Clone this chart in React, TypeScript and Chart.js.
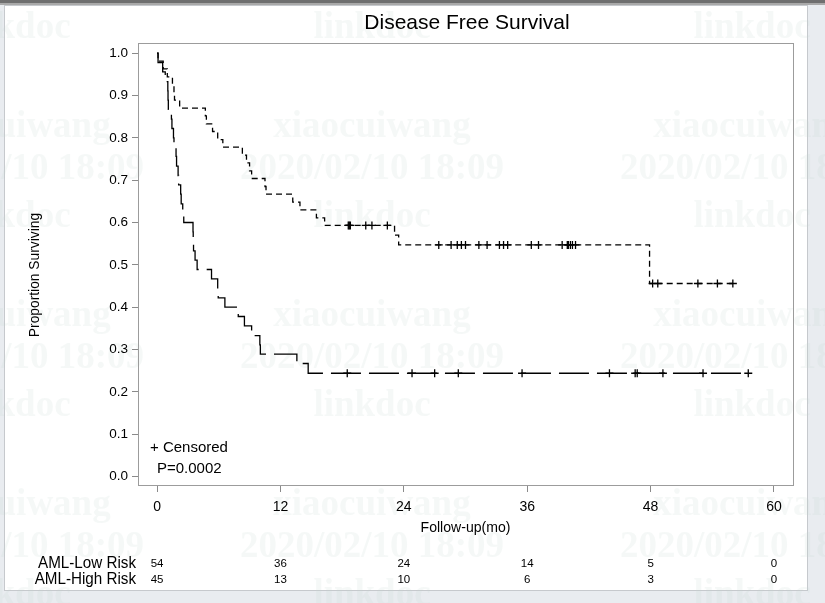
import React, { useEffect, useRef } from 'react';
import { Chart, registerables } from 'chart.js';

Chart.register(...registerables);

const chartTitle = 'Disease Free Survival';
const xAxisTitle = 'Follow-up(mo)';
const yAxisTitle = 'Proportion Surviving';
const censoredText = '+ Censored';
const pValueText = 'P=0.0002';

const xTicks = [0, 12, 24, 36, 48, 60];
const yTicks = [0, 0.1, 0.2, 0.3, 0.4, 0.5, 0.6, 0.7, 0.8, 0.9, 1.0];

// AML-Low Risk: Kaplan-Meier steps (months, proportion surviving)
const lowRiskTimes = [
  0, 0.1, 0.6, 1.0, 1.5, 1.65, 1.7, 2.2, 4.7, 4.8, 5.4, 5.9, 6.4, 8.3, 8.7, 9.0, 9.2,
  10.5, 10.6, 13.2, 13.9, 15.5, 16.3, 23.1, 23.5, 47.9, 56.0,
];
const lowRiskSurvival = [
  1.0, 0.981, 0.963, 0.944, 0.926, 0.907, 0.889, 0.87, 0.852, 0.833, 0.815, 0.796, 0.778,
  0.759, 0.741, 0.722, 0.704, 0.685, 0.667, 0.648, 0.63, 0.611, 0.593, 0.57, 0.547, 0.456,
  0.456,
];
const lowRiskCensored = [
  18.6, 18.7, 18.8, 20.3, 20.9, 22.4, 27.4, 28.6, 29.2, 29.6, 30.0, 31.3, 32.1, 33.3, 33.7,
  34.1, 36.4, 37.1, 39.4, 39.9, 40.0, 40.2, 40.4, 40.7, 48.2, 48.7, 52.6, 54.5, 56.0,
];

// AML-High Risk: Kaplan-Meier steps (months, proportion surviving)
const highRiskTimes = [
  0, 0.1, 0.55, 0.8, 1.05, 1.07, 1.1, 1.4, 1.45, 1.6, 1.65, 1.85, 1.9, 2.05, 2.1, 2.3, 2.35,
  2.5, 2.6, 3.5, 3.52, 3.55, 3.7, 3.9, 5.3, 5.9, 5.95, 6.6, 7.9, 8.5, 9.2, 10.0, 10.05, 13.6,
  14.7, 57.5,
];
const highRiskSurvival = [
  1.0, 0.978, 0.956, 0.933, 0.911, 0.889, 0.867, 0.844, 0.822, 0.8, 0.778, 0.756, 0.733,
  0.711, 0.689, 0.667, 0.644, 0.622, 0.6, 0.578, 0.556, 0.533, 0.511, 0.489, 0.467, 0.444,
  0.422, 0.4, 0.378, 0.356, 0.333, 0.311, 0.289, 0.267, 0.244, 0.244,
];
const highRiskCensored = [18.5, 24.8, 27.0, 29.3, 35.5, 44.0, 46.5, 46.7, 49.2, 53.1, 57.5];

// Numbers at risk under the axis
const riskGroups = ['AML-Low Risk', 'AML-High Risk'];
const lowRiskAtRisk = [54, 36, 24, 14, 5, 0];
const highRiskAtRisk = [45, 13, 10, 6, 3, 0];

// Faint stamp repeated over the figure
const stampWords = ['linkdoc', 'xiaocuiwang', '2020/02/10 18:09'];

const SANS = '"Liberation Sans", Arial, sans-serif';
const SERIF = '"Liberation Serif", "Times New Roman", serif';

function survivalAt(times: number[], surv: number[], t: number): number {
  let v = surv[0];
  for (let i = 0; i < times.length; i++) {
    if (times[i] <= t) v = surv[i];
  }
  return v;
}

function toPoints(xs: number[], ys: number[]) {
  return xs.map((x, i) => ({ x, y: ys[i] }));
}

type TextOpts = {
  align?: CanvasTextAlign;
  weight?: string;
  family?: string;
  color?: string;
  sx?: number;
  rotate?: number;
};

function drawText(
  ctx: CanvasRenderingContext2D,
  str: string,
  x: number,
  y: number,
  size: number,
  o: TextOpts = {}
) {
  ctx.save();
  ctx.translate(x, y);
  if (o.rotate) ctx.rotate(o.rotate);
  ctx.scale(o.sx ?? 1, 1);
  ctx.font = `${o.weight ?? 'normal'} ${size}px ${o.family ?? SANS}`;
  ctx.fillStyle = o.color ?? '#000';
  ctx.textAlign = o.align ?? 'left';
  ctx.textBaseline = 'alphabetic';
  ctx.fillText(str, 0, 0);
  ctx.restore();
}

const decorPlugin = {
  id: 'kmDecor',
  beforeDraw(chart: any) {
    const ctx: CanvasRenderingContext2D = chart.ctx;
    const w = chart.width;
    const h = chart.height;
    ctx.save();
    ctx.fillStyle = '#e9ecf0';
    ctx.fillRect(0, 0, w, h);
    ctx.fillStyle = '#ffffff';
    ctx.fillRect(4, 5, 804, 586);
    ctx.strokeStyle = '#c6c9cd';
    ctx.lineWidth = 1;
    ctx.strokeRect(4.5, 5.5, 803, 585);
    ctx.fillStyle = '#6f6f6f';
    ctx.fillRect(0, 0, w, 3);
    ctx.fillStyle = '#a9a9a9';
    ctx.fillRect(0, 3, w, 2);

    // repeated stamp
    const cols = [12, 372, 752];
    const rowStarts = [38, 227, 416, 605];
    const offsets = [0, 99, 141];
    for (const r of rowStarts) {
      stampWords.forEach((word, k) => {
        for (const c of cols) {
          drawText(ctx, word, c, r + offsets[k], 37, {
            align: 'center',
            weight: 'bold',
            family: SERIF,
            color: 'rgba(196, 214, 208, 0.17)',
          });
        }
      });
    }
    ctx.restore();
  },
  afterDraw(chart: any) {
    const ctx: CanvasRenderingContext2D = chart.ctx;
    const a = chart.chartArea;
    const xs = chart.scales.x;

    ctx.save();
    ctx.strokeStyle = '#9c9c9c';
    ctx.lineWidth = 1;
    ctx.strokeRect(Math.round(a.left) + 0.5, Math.round(a.top) + 0.5,
      Math.round(a.right - a.left), Math.round(a.bottom - a.top));
    ctx.restore();

    drawText(ctx, chartTitle, 467, 29, 21, { align: 'center' });
    drawText(ctx, xAxisTitle, (a.left + a.right) / 2, 532, 14.5, { align: 'center', sx: 0.97 });
    drawText(ctx, yAxisTitle, 39, (a.top + a.bottom) / 2 + 11, 15, {
      align: 'center',
      rotate: -Math.PI / 2,
      sx: 0.92,
    });

    drawText(ctx, censoredText, 150, 452, 15);
    drawText(ctx, pValueText, 157, 473, 15);

    const rows = [lowRiskAtRisk, highRiskAtRisk];
    const rowY = [568, 584];
    rows.forEach((vals, r) => {
      drawText(ctx, riskGroups[r], 136, rowY[r], 16, { align: 'right', sx: 0.95 });
      vals.forEach((v, i) => {
        drawText(ctx, String(v), xs.getPixelForValue(xTicks[i]), rowY[r] - 1, 11.5, {
          align: 'center',
        });
      });
    });
  },
};

export default function App() {
  const ref = useRef<HTMLCanvasElement | null>(null);

  useEffect(() => {
    if (!ref.current) return;
    const lowCens = lowRiskCensored.map((t) => ({
      x: t,
      y: survivalAt(lowRiskTimes, lowRiskSurvival, t),
    }));
    const highCens = highRiskCensored.map((t) => ({
      x: t,
      y: survivalAt(highRiskTimes, highRiskSurvival, t),
    }));

    const chart = new Chart(ref.current, {
      type: 'line',
      data: {
        datasets: [
          {
            label: 'AML-Low Risk',
            data: toPoints(lowRiskTimes, lowRiskSurvival),
            stepped: 'before',
            borderColor: '#000',
            borderWidth: 1.3,
            borderDash: [6, 4],
            pointRadius: 0,
            fill: false,
          },
          {
            label: 'AML-High Risk',
            data: toPoints(highRiskTimes, highRiskSurvival),
            stepped: 'before',
            borderColor: '#000',
            borderWidth: 1.3,
            borderDash: [30, 8],
            pointRadius: 0,
            fill: false,
          },
          {
            label: 'Censored low',
            data: lowCens,
            showLine: false,
            pointStyle: 'cross',
            pointRadius: 4,
            pointBorderColor: '#000',
            pointBorderWidth: 1.3,
            borderColor: '#000',
          },
          {
            label: 'Censored high',
            data: highCens,
            showLine: false,
            pointStyle: 'cross',
            pointRadius: 4,
            pointBorderColor: '#000',
            pointBorderWidth: 1.3,
            borderColor: '#000',
          },
        ],
      },
      options: {
        responsive: false,
        animation: false,
        devicePixelRatio: 1,
        layout: { padding: { left: 0, top: 43, right: 32, bottom: 0 } },
        plugins: {
          legend: { display: false },
          tooltip: { enabled: false },
          title: { display: false },
        },
        scales: {
          x: {
            type: 'linear',
            min: -1.85,
            max: 61.85,
            afterBuildTicks: (s: any) => {
              s.ticks = xTicks.map((v) => ({ value: v }));
            },
            afterFit: (s: any) => {
              s.height = 118;
            },
            ticks: {
              color: '#000',
              padding: 7,
              maxRotation: 0,
              font: { family: SANS, size: 14 },
              callback: (v: any) => String(v),
            },
            grid: {
              drawOnChartArea: false,
              drawTicks: true,
              tickLength: 7,
              tickColor: '#8a8a8a',
            },
            border: { display: false },
          },
          y: {
            type: 'linear',
            min: -0.02,
            max: 1.024,
            afterBuildTicks: (s: any) => {
              s.ticks = yTicks.map((v) => ({ value: v }));
            },
            afterFit: (s: any) => {
              s.width = 138;
            },
            ticks: {
              color: '#000',
              padding: 4,
              font: { family: SANS, size: 13.5 },
              callback: (v: any) => Number(v).toFixed(1),
            },
            grid: {
              drawOnChartArea: false,
              drawTicks: true,
              tickLength: 6,
              tickColor: '#8a8a8a',
            },
            border: { display: false },
          },
        },
      },
      plugins: [decorPlugin],
    });
    return () => chart.destroy();
  }, []);

  return (
    <div style={{ position: 'fixed', left: 0, top: 0, width: 825, height: 603 }}>
      <canvas ref={ref} width={825} height={603} style={{ width: 825, height: 603 }} />
    </div>
  );
}
